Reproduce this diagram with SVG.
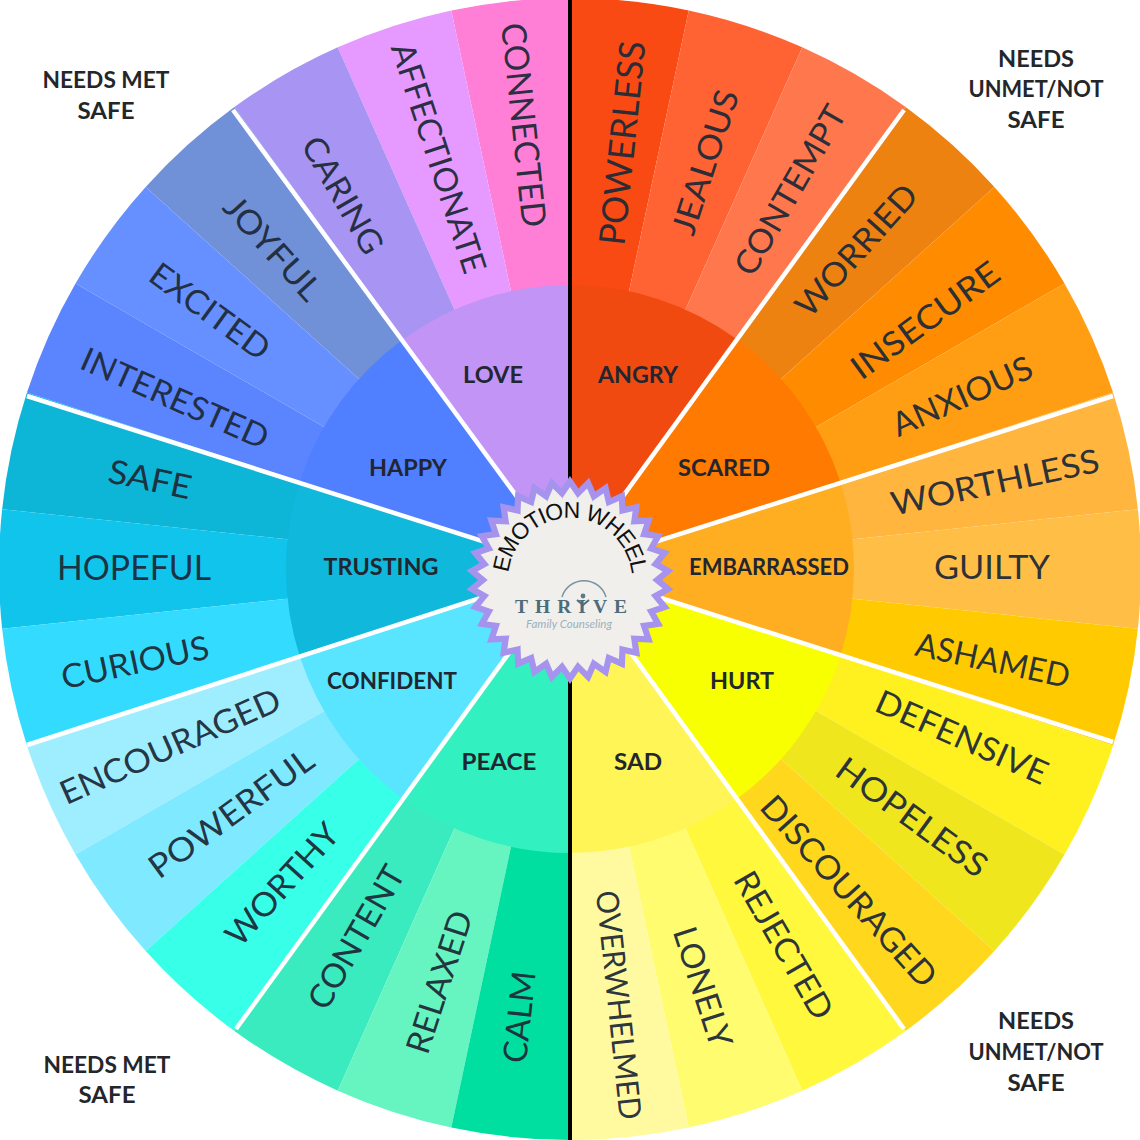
<svg xmlns="http://www.w3.org/2000/svg" width="1140" height="1140" viewBox="0 0 1140 1140">
<style>
text{font-family:"Lato","Noto Sans",sans-serif;text-anchor:middle;fill:#1e2a38}
.w{font-size:33px;fill-opacity:.95}
.c{font-size:22px;font-weight:700;fill:#222630}
.n{font-size:22px;font-weight:700;fill:#24262a}
.sep{stroke:#fff;stroke-width:4.5;fill:none}
</style>
<defs>
<path id="w12" d="M570 569L570 -2A571 571 0 0 1 688.72 10.47Z"/>
<path id="w36" d="M570 569L570 285A284 284 0 0 1 736.93 339.24Z"/>
<polygon id="sp" points="0,-60 -8.49,-91.61 0,-104 8.49,-91.61"/>
<g id="star">
<use href="#sp"/><use href="#sp" transform="rotate(10.588)"/><use href="#sp" transform="rotate(21.176)"/><use href="#sp" transform="rotate(31.765)"/><use href="#sp" transform="rotate(42.353)"/><use href="#sp" transform="rotate(52.941)"/><use href="#sp" transform="rotate(63.529)"/><use href="#sp" transform="rotate(74.118)"/><use href="#sp" transform="rotate(84.706)"/><use href="#sp" transform="rotate(95.294)"/><use href="#sp" transform="rotate(105.882)"/><use href="#sp" transform="rotate(116.471)"/><use href="#sp" transform="rotate(127.059)"/><use href="#sp" transform="rotate(137.647)"/><use href="#sp" transform="rotate(148.235)"/><use href="#sp" transform="rotate(158.824)"/><use href="#sp" transform="rotate(169.412)"/><use href="#sp" transform="rotate(180)"/><use href="#sp" transform="rotate(190.588)"/><use href="#sp" transform="rotate(201.176)"/><use href="#sp" transform="rotate(211.765)"/><use href="#sp" transform="rotate(222.353)"/><use href="#sp" transform="rotate(232.941)"/><use href="#sp" transform="rotate(243.529)"/><use href="#sp" transform="rotate(254.118)"/><use href="#sp" transform="rotate(264.706)"/><use href="#sp" transform="rotate(275.294)"/><use href="#sp" transform="rotate(285.882)"/><use href="#sp" transform="rotate(296.471)"/><use href="#sp" transform="rotate(307.059)"/><use href="#sp" transform="rotate(317.647)"/><use href="#sp" transform="rotate(328.235)"/><use href="#sp" transform="rotate(338.824)"/><use href="#sp" transform="rotate(349.412)"/>
<circle r="91.4"/>
</g>
<path id="arc" d="M508 580A62 62 0 0 1 632 580"/>
</defs>
<rect width="1140" height="1140" fill="#fff"/>

<g id="love">
<use href="#w12" transform="rotate(-12 570 569)" fill="#ff7fd6"/><use href="#w12" transform="rotate(-24 570 569)" fill="#e699ff"/><use href="#w12" transform="rotate(-36 570 569)" fill="#a894f2"/>
<use href="#w36" transform="rotate(-36 570 569)" fill="#c194f5"/>
<text class="w" textLength="205" lengthAdjust="spacingAndGlyphs" dy=".36em" style="font-size:34px" transform="translate(524 125) rotate(84)">CONNECTED</text>
<text class="w" textLength="240" lengthAdjust="spacingAndGlyphs" dy=".36em" transform="translate(439 158) rotate(72)">AFFECTIONATE</text>
<text class="w" textLength="130" lengthAdjust="spacingAndGlyphs" dy=".36em" transform="translate(343 195) rotate(60)">CARING</text>
<text class="c" textLength="60" lengthAdjust="spacingAndGlyphs" dy=".36em" x="493" y="375">LOVE</text>
</g>
<g id="happy">
<use href="#w12" transform="rotate(-48 570 569)" fill="#7090d8"/><use href="#w12" transform="rotate(-60 570 569)" fill="#6690ff"/><use href="#w12" transform="rotate(-72 570 569)" fill="#5a85ff"/>
<use href="#w36" transform="rotate(-72 570 569)" fill="#5080ff"/>
<text class="w" textLength="128" lengthAdjust="spacingAndGlyphs" dy=".36em" transform="translate(273 248) rotate(48)">JOYFUL</text>
<text class="w" textLength="140" lengthAdjust="spacingAndGlyphs" dy=".36em" transform="translate(210 311) rotate(36)">EXCITED</text>
<text class="w" textLength="202" lengthAdjust="spacingAndGlyphs" dy=".36em" transform="translate(175 398) rotate(24)">INTERESTED</text>
<text class="c" textLength="78" lengthAdjust="spacingAndGlyphs" dy=".36em" x="408" y="468">HAPPY</text>
</g>
<g id="trusting">
<use href="#w12" transform="rotate(-84 570 569)" fill="#0db5d6"/><use href="#w12" transform="rotate(-96 570 569)" fill="#10c4eb"/><use href="#w12" transform="rotate(-108 570 569)" fill="#33dcff"/>
<use href="#w36" transform="rotate(-108 570 569)" fill="#10b8dc"/>
<text class="w" textLength="84" lengthAdjust="spacingAndGlyphs" dy=".36em" transform="translate(150 479) rotate(12)">SAFE</text>
<text class="w" textLength="154" lengthAdjust="spacingAndGlyphs" dy=".36em" style="font-size:35px" transform="translate(134 567)">HOPEFUL</text>
<text class="w" textLength="150" lengthAdjust="spacingAndGlyphs" dy=".36em" transform="translate(135 662) rotate(-12)">CURIOUS</text>
<text class="c" textLength="115" lengthAdjust="spacingAndGlyphs" dy=".36em" x="381" y="567">TRUSTING</text>
</g>
<g id="confident">
<use href="#w12" transform="rotate(-120 570 569)" fill="#9feeff"/><use href="#w12" transform="rotate(-132 570 569)" fill="#7ee9ff"/><use href="#w12" transform="rotate(-144 570 569)" fill="#38ffe8"/>
<use href="#w36" transform="rotate(-144 570 569)" fill="#59e5ff"/>
<text class="w" textLength="238" lengthAdjust="spacingAndGlyphs" dy=".36em" transform="translate(170 746) rotate(-24)">ENCOURAGED</text>
<text class="w" textLength="195" lengthAdjust="spacingAndGlyphs" dy=".36em" transform="translate(231 813) rotate(-36)">POWERFUL</text>
<text class="w" textLength="152" lengthAdjust="spacingAndGlyphs" dy=".36em" transform="translate(282 884) rotate(-48)">WORTHY</text>
<text class="c" textLength="130" lengthAdjust="spacingAndGlyphs" dy=".36em" x="392" y="681">CONFIDENT</text>
</g>
<g id="peace">
<use href="#w12" transform="rotate(-156 570 569)" fill="#3aebc0"/><use href="#w12" transform="rotate(-168 570 569)" fill="#66f5c0"/><use href="#w12" transform="rotate(-180 570 569)" fill="#00dfa0"/>
<use href="#w36" transform="rotate(-180 570 569)" fill="#33f0c0"/>
<text class="w" textLength="160" lengthAdjust="spacingAndGlyphs" dy=".36em" transform="translate(356 937) rotate(-60)">CONTENT</text>
<text class="w" textLength="148" lengthAdjust="spacingAndGlyphs" dy=".36em" transform="translate(439 982) rotate(-72)">RELAXED</text>
<text class="w" textLength="92" lengthAdjust="spacingAndGlyphs" dy=".36em" transform="translate(519 1017) rotate(-84)">CALM</text>
<text class="c" textLength="75" lengthAdjust="spacingAndGlyphs" dy=".36em" x="499" y="762">PEACE</text>
</g>
<g id="angry">
<use href="#w12" fill="#f84a12"/><use href="#w12" transform="rotate(12 570 569)" fill="#ff6233"/><use href="#w12" transform="rotate(24 570 569)" fill="#ff784d"/>
<use href="#w36" fill="#f04a10"/>
<text class="w" textLength="205" lengthAdjust="spacingAndGlyphs" dy=".36em" style="font-size:36px" transform="translate(622 143) rotate(-84)">POWERLESS</text>
<text class="w" textLength="150" lengthAdjust="spacingAndGlyphs" dy=".36em" transform="translate(705 162) rotate(-72)">JEALOUS</text>
<text class="w" textLength="190" lengthAdjust="spacingAndGlyphs" dy=".36em" transform="translate(790 190) rotate(-60)">CONTEMPT</text>
<text class="c" textLength="80" lengthAdjust="spacingAndGlyphs" dy=".36em" x="638" y="375">ANGRY</text>
</g>
<g id="scared">
<use href="#w12" transform="rotate(36 570 569)" fill="#ee8210"/><use href="#w12" transform="rotate(48 570 569)" fill="#ff8c00"/><use href="#w12" transform="rotate(60 570 569)" fill="#ff9e12"/>
<use href="#w36" transform="rotate(36 570 569)" fill="#ff7a00"/>
<text class="w" textLength="165" lengthAdjust="spacingAndGlyphs" dy=".36em" transform="translate(856 250) rotate(-48)">WORRIED</text>
<text class="w" textLength="175" lengthAdjust="spacingAndGlyphs" dy=".36em" transform="translate(925 320) rotate(-36)">INSECURE</text>
<text class="w" textLength="150" lengthAdjust="spacingAndGlyphs" dy=".36em" transform="translate(962 396) rotate(-24)">ANXIOUS</text>
<text class="c" textLength="92" lengthAdjust="spacingAndGlyphs" dy=".36em" x="724" y="468">SCARED</text>
</g>
<g id="embarrassed">
<use href="#w12" transform="rotate(72 570 569)" fill="#ffb53e"/><use href="#w12" transform="rotate(84 570 569)" fill="#ffbf47"/><use href="#w12" transform="rotate(96 570 569)" fill="#ffcb00"/>
<use href="#w36" transform="rotate(72 570 569)" fill="#ffae22"/>
<text class="w" textLength="212" lengthAdjust="spacingAndGlyphs" dy=".36em" transform="translate(995 482) rotate(-12)">WORTHLESS</text>
<text class="w" textLength="116" lengthAdjust="spacingAndGlyphs" dy=".36em" transform="translate(992 567)">GUILTY</text>
<text class="w" textLength="157" lengthAdjust="spacingAndGlyphs" dy=".36em" transform="translate(993 660) rotate(12)">ASHAMED</text>
<text class="c" textLength="160" lengthAdjust="spacingAndGlyphs" dy=".36em" x="769" y="567">EMBARRASSED</text>
</g>
<g id="hurt">
<use href="#w12" transform="rotate(108 570 569)" fill="#fff01f"/><use href="#w12" transform="rotate(120 570 569)" fill="#f0e61e"/><use href="#w12" transform="rotate(132 570 569)" fill="#ffd81e"/>
<use href="#w36" transform="rotate(108 570 569)" fill="#f8ff00"/>
<text class="w" textLength="185" lengthAdjust="spacingAndGlyphs" dy=".36em" transform="translate(962 737) rotate(24)">DEFENSIVE</text>
<text class="w" textLength="178" lengthAdjust="spacingAndGlyphs" dy=".36em" transform="translate(912 817) rotate(36)">HOPELESS</text>
<text class="w" textLength="245" lengthAdjust="spacingAndGlyphs" dy=".36em" transform="translate(849 891) rotate(48)">DISCOURAGED</text>
<text class="c" textLength="64" lengthAdjust="spacingAndGlyphs" dy=".36em" x="742" y="681">HURT</text>
</g>
<g id="sad">
<use href="#w12" transform="rotate(144 570 569)" fill="#fff83c"/><use href="#w12" transform="rotate(156 570 569)" fill="#fffc70"/><use href="#w12" transform="rotate(168 570 569)" fill="#fffaa0"/>
<use href="#w36" transform="rotate(144 570 569)" fill="#fff556"/>
<text class="w" textLength="165" lengthAdjust="spacingAndGlyphs" dy=".36em" transform="translate(784 945) rotate(60)">REJECTED</text>
<text class="w" textLength="125" lengthAdjust="spacingAndGlyphs" dy=".36em" transform="translate(703 987) rotate(72)">LONELY</text>
<text class="w" textLength="230" lengthAdjust="spacingAndGlyphs" dy=".36em" style="font-size:31px" transform="translate(619 1005) rotate(84)">OVERWHELMED</text>
<text class="c" textLength="48" lengthAdjust="spacingAndGlyphs" dy=".36em" x="638" y="762">SAD</text>
</g>

<g id="connectors">
<line class="sep" x1="570" y1="569" x2="233" y2="110"/>
<line class="sep" x1="570" y1="569" x2="27" y2="396"/>
<line class="sep" x1="570" y1="569" x2="27" y2="745"/>
<line class="sep" x1="570" y1="569" x2="236" y2="1029"/>
<line class="sep" x1="570" y1="569" x2="904" y2="110"/>
<line class="sep" x1="570" y1="569" x2="1113" y2="396"/>
<line class="sep" x1="570" y1="569" x2="1113" y2="742"/>
<line class="sep" x1="570" y1="569" x2="904" y2="1029"/>
<line x1="570" y1="0" x2="570" y2="1140" stroke="#000" stroke-width="4"/>
</g>

<g id="seal">
<use href="#star" transform="translate(570 580)" fill="#a593ee"/>
<use href="#star" transform="translate(570 580) scale(.894)" fill="#f1efec"/>
<text style="font-family:'Liberation Sans',sans-serif;font-size:23px;letter-spacing:-1.2px;fill:#111"><textPath href="#arc" startOffset="50%">EMOTION WHEEL</textPath></text>
<path d="M562 597A23 23 0 0 1 606 597" fill="none" stroke="#7a93a0" stroke-width="1.5"/>
<circle cx="583" cy="596" r="2.4" fill="#5b7a88"/>
<path d="M577 600L583 605L589 600" fill="none" stroke="#4e6b7a" stroke-width="2"/>
<text x="571" y="613" textLength="112" lengthAdjust="spacing" style="font-family:'Liberation Serif',serif;font-size:19.5px;font-weight:700;fill:#4e6b7a">THRIVE</text>
<text x="569" y="628" textLength="86" lengthAdjust="spacingAndGlyphs" style="font-size:11.5px;font-style:italic;fill:#9db0ba">Family Counseling</text>
</g>

<g id="note-top-left"><text class="n" x="106" y="88" textLength="127" lengthAdjust="spacingAndGlyphs">NEEDS MET</text><text class="n" x="106" y="119" textLength="57" lengthAdjust="spacingAndGlyphs">SAFE</text></g>
<g id="note-bottom-left"><text class="n" x="107" y="1073" textLength="127" lengthAdjust="spacingAndGlyphs">NEEDS MET</text><text class="n" x="107" y="1103" textLength="57" lengthAdjust="spacingAndGlyphs">SAFE</text></g>
<g id="note-top-right"><text class="n" x="1036" y="67" textLength="76" lengthAdjust="spacingAndGlyphs">NEEDS</text><text class="n" x="1036" y="97" textLength="135" lengthAdjust="spacingAndGlyphs">UNMET/NOT</text><text class="n" x="1036" y="128" textLength="57" lengthAdjust="spacingAndGlyphs">SAFE</text></g>
<g id="note-bottom-right"><text class="n" x="1036" y="1029" textLength="76" lengthAdjust="spacingAndGlyphs">NEEDS</text><text class="n" x="1036" y="1060" textLength="135" lengthAdjust="spacingAndGlyphs">UNMET/NOT</text><text class="n" x="1036" y="1091" textLength="57" lengthAdjust="spacingAndGlyphs">SAFE</text></g>
</svg>
